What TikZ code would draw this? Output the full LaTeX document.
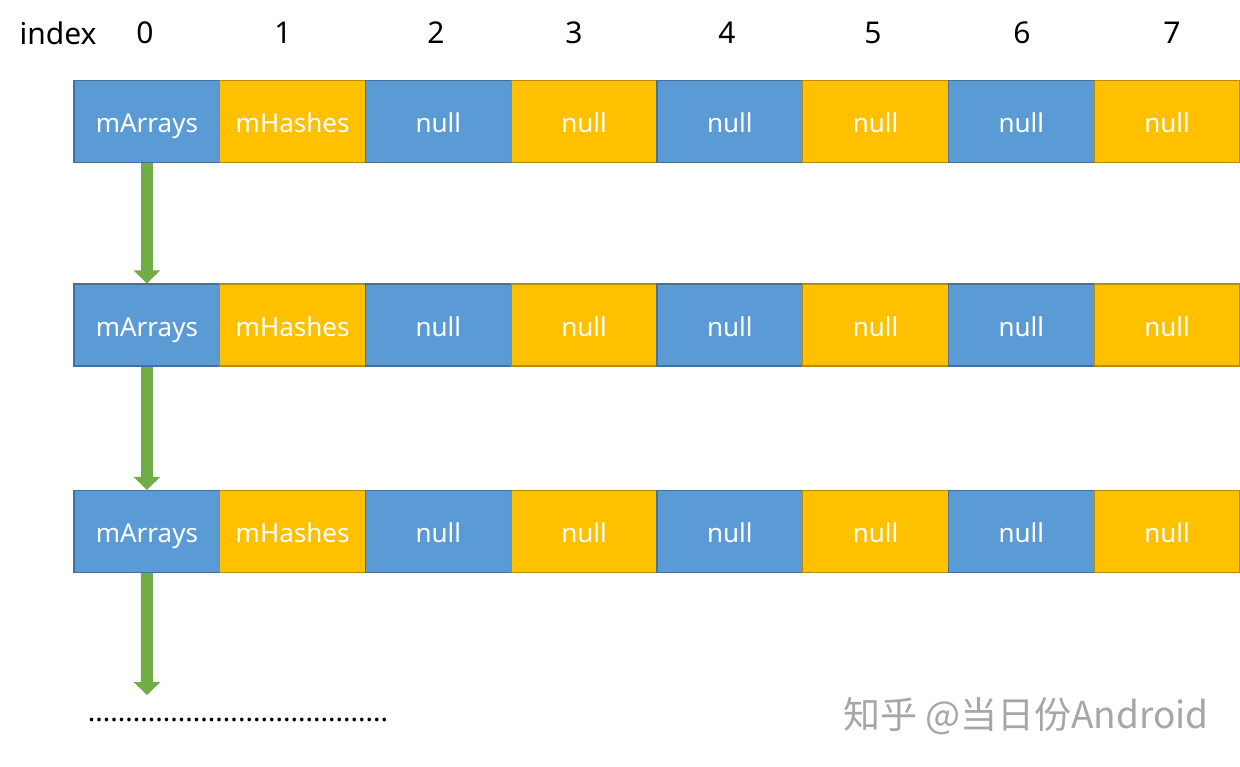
\documentclass[tikz,border=0pt]{standalone}
\usepackage{fontspec}
\setmainfont{Noto Sans}
\newfontfamily\cjk{Noto Sans CJK SC}
\usetikzlibrary{arrows.meta}
\definecolor{cellblue}{HTML}{5B9BD5}
\definecolor{blueedge}{HTML}{41719C}
\definecolor{cellorange}{HTML}{FFC000}
\definecolor{orangeedge}{HTML}{BC8C00}
\definecolor{linkgreen}{HTML}{70AD47}
\tikzset{
  cell/.style={rectangle, minimum width=145.75pt, minimum height=82pt, inner sep=0pt,
    line width=1.2pt, text=white, text height=23pt, text depth=1pt,
    font=\fontsize{26}{30}\selectfont},
  bluecell/.style={cell, fill=cellblue, draw=blueedge},
  orangecell/.style={cell, fill=cellorange, draw=orangeedge},
  link/.style={-{Triangle[width=26pt,length=13pt]}, line width=12pt, draw=linkgreen},
  heading/.style={font=\fontsize{30}{34}\selectfont}
}
\begin{document}
\begin{tikzpicture}[x=1pt,y=-1pt]
  \useasboundingbox (0,0) rectangle (1240,766);
  % index row
  \node[heading] (idx) at (58,33) {index};
  \foreach \c/\x in {0/145,1/283,2/436,3/574,4/727,5/873,6/1022,7/1172}
    \node[heading] (i\c) at (\x,33) {\c};
  % the three arrays
  \foreach \r/\y in {0/121.5,1/325,2/531.5}
    \foreach \c/\sty/\txt in {0/bluecell/mArrays,1/orangecell/mHashes,2/bluecell/null,3/orangecell/null,
                              4/bluecell/null,5/orangecell/null,6/bluecell/null,7/orangecell/null}
      \node[\sty] (r\r c\c) at ({74+145.75*(\c+0.5)},\y) {\txt};
  % links between them
  \coordinate (more) at (147,695);
  \draw[link] (r0c0.south) -- (r1c0.north);
  \draw[link] (r1c0.south) -- (r2c0.north);
  \draw[link] (r2c0.south) -- (more);
  \node[font=\fontsize{28}{30}\selectfont] (dots) at (238,720) {........................................};
  \node[text=black!35, font=\cjk\fontsize{37}{40}\selectfont] (mark) at (1026,716) {知乎 @当日份Android};
\end{tikzpicture}
\end{document}
